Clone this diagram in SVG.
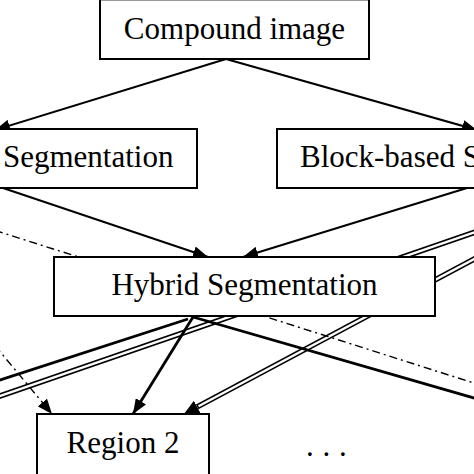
<svg xmlns="http://www.w3.org/2000/svg" width="474" height="474" viewBox="0 0 474 474">
<style>
  .box { fill: #fff; stroke: #000; stroke-width: 2; }
  .lbl { font-family: "Liberation Serif", "Times New Roman", serif; font-size: 31px; fill: #000; }
  .arr { fill: none; stroke: #000; stroke-width: 2; }
  .thick { fill: none; stroke: #000; stroke-width: 2.8; }
  .dbl-out { fill: none; stroke: #000; stroke-width: 5.5; }
  .dbl-in { fill: none; stroke: #fff; stroke-width: 2.4; }
  .dash { fill: none; stroke: #000; stroke-width: 1.4; stroke-dasharray: 8 4 2 4; }
</style>
<defs>
  <marker id="ah" markerUnits="userSpaceOnUse" markerWidth="16" markerHeight="12" refX="15" refY="6" orient="auto">
    <path d="M0,0 L15,6 L0,12 z" fill="#000"/>
  </marker>
  <marker id="ahb" markerUnits="userSpaceOnUse" markerWidth="16" markerHeight="14" refX="0" refY="7" orient="auto">
    <path d="M0,0 L15,7 L0,14 z" fill="#000"/>
  </marker>
</defs>
<g id="connectors">
  <!-- double lines -->
  <path class="dbl-out" d="M480,230.4 L-5,397.7"/>
  <path class="dbl-in" d="M480,230.4 L-5,397.7"/>
  <path class="dbl-out" d="M480,256 L197.2,406.9" marker-end="url(#ahb)"/>
  <path class="dbl-in" d="M480,256 L198.5,406.2"/>
  <!-- dash-dot lines -->
  <path class="dash" d="M-5,230.4 L480,385"/>
  <path class="dash" d="M-5,345.6 L52,414" marker-end="url(#ah)"/>
  <!-- top arrows -->
  <path class="arr" d="M226,59 L-5,130" marker-end="url(#ah)"/>
  <path class="arr" d="M226,59 L477,130" marker-end="url(#ah)"/>
  <path class="arr" d="M3,188 L208,257" marker-end="url(#ah)"/>
  <path class="arr" d="M467,188 L243,257" marker-end="url(#ah)"/>
  <!-- thick lines from hybrid -->
  <path class="thick" d="M193,317 L133,414" marker-end="url(#ah)"/>
  <path class="thick" d="M193,317 L480,399.7"/>
  <path class="thick" d="M188,319 L-5,381.6"/>
</g>
<g id="compound">
  <rect class="box" x="100" y="-0.6" width="269" height="59.6"/>
  <text class="lbl" x="234.5" y="39" text-anchor="middle">Compound image</text>
</g>
<g id="left-seg">
  <rect class="box" x="-10" y="129" width="207" height="59"/>
  <text class="lbl" x="3" y="167">Segmentation</text>
</g>
<g id="block-seg">
  <rect class="box" x="277" y="129" width="250" height="59"/>
  <text class="lbl" x="300" y="167">Block-based S</text>
</g>
<g id="hybrid">
  <rect class="box" x="54" y="257" width="381" height="59"/>
  <text class="lbl" x="244.5" y="295" text-anchor="middle">Hybrid Segmentation</text>
</g>
<g id="region2">
  <rect class="box" x="37" y="414" width="172" height="70"/>
  <text class="lbl" x="123" y="453" text-anchor="middle">Region 2</text>
</g>
<g id="more">
  <text class="lbl" x="306" y="456" letter-spacing="0.5">. . .</text>
</g>
</svg>
